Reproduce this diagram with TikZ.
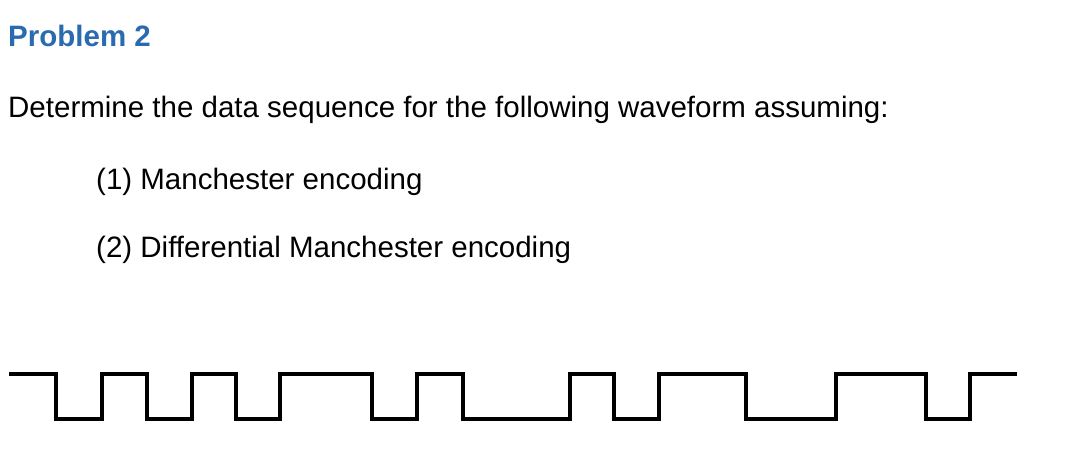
\documentclass[tikz,border=0pt]{standalone}
\usepackage{fontspec}
\setmainfont{Liberation Sans}
\definecolor{titleblue}{HTML}{2A6AAE}
\begin{document}
\begin{tikzpicture}[x=1pt,y=-1pt,
  txt/.style={anchor=base west,inner sep=0pt,font=\fontsize{29.5}{34}\selectfont},
  wave/.style={line width=4pt,line join=miter}]
\useasboundingbox (0,0) rectangle (1078,466);
\node[txt,text=titleblue,font=\bfseries\fontsize{29.5}{34}\selectfont] (t) at (8,46) {Problem 2};
\node[txt] (d) at (8,117) {Determine the data sequence for the following waveform assuming:};
\node[txt] (a) at (96,189) {(1) Manchester encoding};
\node[txt] (b) at (96,257) {(2) Differential Manchester encoding};
\def\H{373.5}\def\L{419}
\draw[wave] (9,\H) -| (56,\L) -| (102,\H) -| (147,\L) -| (192,\H) -| (236,\L) -| (280,\H)
 -| (372,\L) -| (417,\H) -| (463,\L) -| (570,\H) -| (614,\L) -| (659,\H) -| (746,\L)
 -| (836,\H) -| (926,\L) -| (970,\H) -- (1017,\H);
\end{tikzpicture}
\end{document}
